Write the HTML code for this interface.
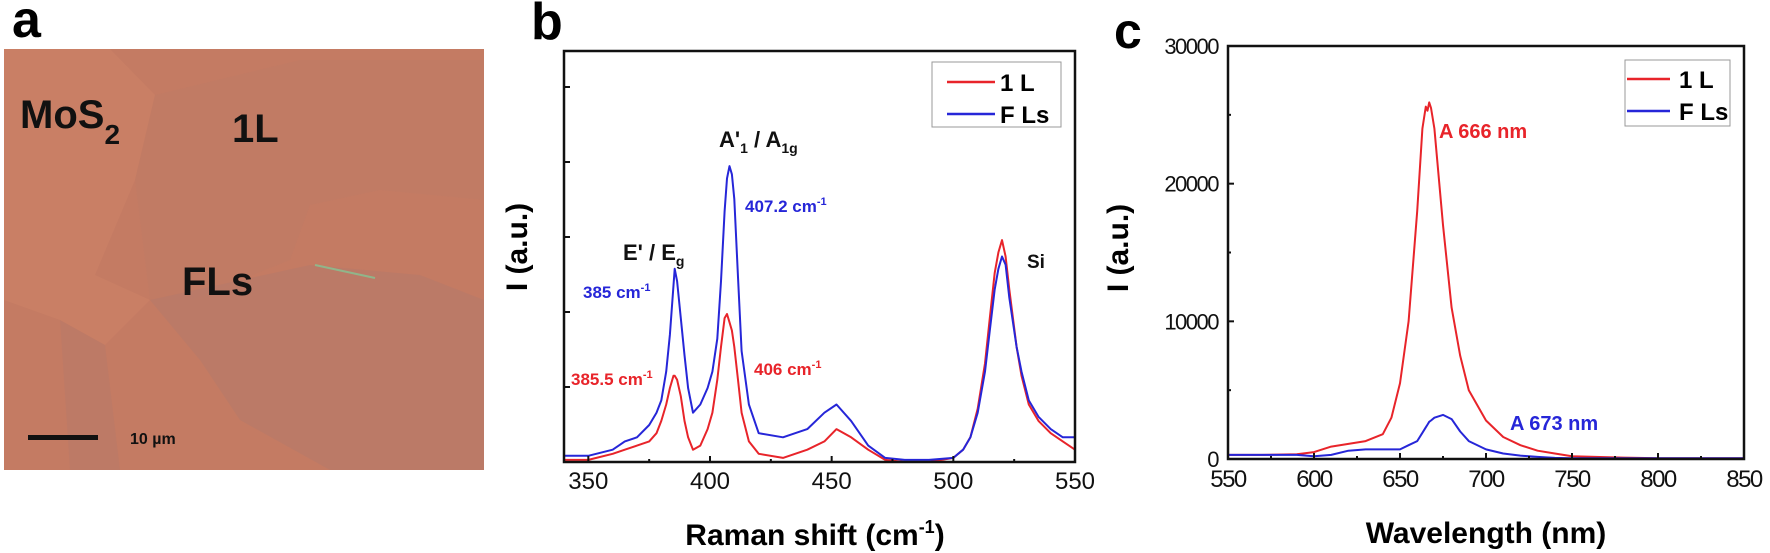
<!DOCTYPE html>
<html><head><meta charset="utf-8">
<style>
html,body{margin:0;padding:0;background:#fff;}
svg{display:block;font-family:"Liberation Sans",Arial,sans-serif;}
</style></head>
<body>
<svg id="fig" width="1770" height="553" viewBox="0 0 1770 553" xmlns="http://www.w3.org/2000/svg">
  <!-- Panel a -->
  <g>
    <text x="12" y="37" font-size="52" font-weight="bold">a</text>
    <rect x="4" y="49" width="480" height="421" fill="#c47b63"/>
    <polygon points="4,49 110,49 155,95 135,180 95,275 150,300 105,345 60,320 4,300" fill="#cc8166" opacity="0.7"/>
    <polygon points="155,95 300,60 484,60 484,200 380,190 310,205 290,260 190,300 150,300 135,180" fill="#bf7b66" opacity="0.6"/>
    <polygon points="150,300 310,265 420,275 484,300 484,470 330,470 240,420 200,360" fill="#b27a6c" opacity="0.45"/>
    <polygon points="60,320 105,345 120,470 70,470" fill="#b47a6c" opacity="0.4"/>
    <line x1="315" y1="265" x2="375" y2="278" stroke="#7fcf9a" stroke-width="2" opacity="0.7"/>
    <text x="20" y="128" font-size="40" font-weight="bold" fill="#111">MoS<tspan font-size="28" dy="16">2</tspan></text>
    <text x="232" y="142" font-size="40" font-weight="bold" fill="#111">1L</text>
    <text x="182" y="295" font-size="40" font-weight="bold" fill="#111">FLs</text>
    <rect x="28" y="435" width="70" height="5" fill="#111"/>
    <text x="130" y="444" font-size="16" font-weight="bold" fill="#111">10 µm</text>
  </g>
  <g id="pb"></g>
  <g id="pc"></g>
</svg>
<script>
// ---------- Panel b data ----------
const ramanX = [340,350,360,365,370,375,378,380,382,383.5,385,385.5,386.5,388,389.5,391,393,396,399,401,403,404.5,406,407,408,409,410,411.5,413,416,420,430,440,447,452,458,465,472,480,490,500,504,507,510,513,515,517,518.5,520,521.5,523,526,528,531,535,540,545,550];
const ramanBlue = [1.5,1.5,3,5,6,9,12,15,22,31,43,47,44,35,26,18,12,14,18,22,30,44,61,69,72,70,64,45,27,14,7,6,8,12,14,10,4,1,0.5,0.5,1,3,6,12,22,32,42,47,50,48,40,28,22,15,11,8,6,6];
const ramanRed = [0.5,0.5,2,3,4,5,7,10,14,18,21,21,20,16,10,6,3,4,8,12,20,28,35,36,34,32,28,20,12,5,2,1,3,5,8,6,3,0.5,0,0,1,3,6,13,24,35,46,51,54,50,42,28,21,14,10,7,5,3];
const ramanTicks = [350,400,450,500,550];
// ---------- Panel c data ----------
const plX = [550,570,590,600,610,620,630,640,645,650,655,660,663,665,666,667,668,670,675,680,685,690,700,710,720,730,740,750,780,800,850];
const plRed = [300,300,350,500,900,1100,1300,1800,3000,5500,10000,18000,24000,25600,25300,25900,25500,24000,17000,11000,7500,5000,2800,1600,1000,600,400,200,100,50,50];
const plBlue = [300,300,300,200,300,600,700,700,700,700,1000,1300,1900,2300,2500,2700,2800,3000,3200,2900,2000,1300,700,400,250,150,80,50,50,50,50];
const plXTicks = [550,600,650,700,750,800,850];
const plYTicks = [0,10000,20000,30000];

const NS="http://www.w3.org/2000/svg";
function mk(parent,tag,attrs,text){const e=document.createElementNS(NS,tag);for(const k in attrs)e.setAttribute(k,attrs[k]);if(text!==undefined)e.textContent=text;parent.appendChild(e);return e;}

// ---- Panel b ----
(function(){
  const g=document.getElementById('pb');
  const L=564,R=1075,T=51,B=462;
  const xs=v=>L+(v-340)*(R-L)/210;
  const ys=v=>B-v*(B-T)/100;
  let t=mk(g,'text',{x:531,y:39,'font-size':52,'font-weight':'bold'},'b');
  
  
  const clip=mk(g,'clipPath',{id:'clipb'});mk(clip,'rect',{x:L,y:T,width:R-L,height:B-T});
  [[ramanRed,'#e8242a','series-1l'],[ramanBlue,'#2626d8','series-fls']].forEach(([d,c,n])=>{
    const pts=ramanX.map((x,i)=>xs(x).toFixed(1)+','+ys(d[i]).toFixed(1)).join(' ');
    const p=mk(g,'polyline',{points:pts,fill:'none',stroke:c,'stroke-width':2,'stroke-linejoin':'round','clip-path':'url(#clipb)'});
    
    
  });
  const fr=mk(g,'rect',{x:L,y:T,width:R-L,height:B-T,fill:'none',stroke:'#111','stroke-width':2.5});
  
  
  ramanTicks.forEach(v=>{
    mk(g,'line',{x1:xs(v),x2:xs(v),y1:B,y2:B-6,stroke:'#111','stroke-width':2});
    const lb=mk(g,'text',{x:xs(v),y:489,'font-size':24,'text-anchor':'middle',fill:'#111'},String(v));
    
    
    if(v<550) mk(g,'line',{x1:xs(v+25),x2:xs(v+25),y1:B,y2:B-3,stroke:'#111','stroke-width':2});
  });
  for(let k=1;k<=5;k++){mk(g,'line',{x1:L,x2:L+6,y1:B-75*k,y2:B-75*k,stroke:'#111','stroke-width':2});}
  const yt=mk(g,'text',{x:0,y:0,'font-size':30,'font-weight':'bold','text-anchor':'middle',transform:'translate(527,247) rotate(-90)'},'I (a.u.)');
  
  
  const xt=mk(g,'text',{x:815,y:545,'font-size':30,'font-weight':'bold','text-anchor':'middle'});
  xt.innerHTML='Raman shift (cm<tspan font-size="18" dy="-12">-1</tspan><tspan dy="12">)</tspan>';
  
  
  const ann=[[623,260,'#111',22,"E' / E<tspan font-size='14' dy='6'>g</tspan>",'e-mode-label'],
    [719,147,'#111',22,"A'<tspan font-size='14' dy='6'>1</tspan><tspan dy='-6'> / A</tspan><tspan font-size='14' dy='6'>1g</tspan>",'a-mode-label'],
    [745,212,'#2626d8',17,"407.2 cm<tspan font-size='11' dy='-7'>-1</tspan>",'fls-a-peak-label'],
    [583,298,'#2626d8',17,"385 cm<tspan font-size='11' dy='-7'>-1</tspan>",'fls-e-peak-label'],
    [571,385,'#e8242a',17,"385.5 cm<tspan font-size='11' dy='-7'>-1</tspan>",'1l-e-peak-label'],
    [754,375,'#e8242a',17,"406 cm<tspan font-size='11' dy='-7'>-1</tspan>",'1l-a-peak-label'],
    [1027,268,'#111',19,"Si",'si-peak-label']];
  ann.forEach(a=>{const e=mk(g,'text',{x:a[0],y:a[1],fill:a[2],'font-size':a[3],'font-weight':'bold'});e.innerHTML=a[4];
    
    });
  const lg=mk(g,'g',{});
  
  
  mk(lg,'rect',{x:932,y:62,width:129,height:65,fill:'#fff',stroke:'#999','stroke-width':1});
  mk(lg,'line',{x1:947,x2:995,y1:82,y2:82,stroke:'#e8242a','stroke-width':2.5});
  mk(lg,'line',{x1:947,x2:995,y1:114,y2:114,stroke:'#2626d8','stroke-width':2.5});
  const l1=mk(lg,'text',{x:1000,y:91,'font-size':24,'font-weight':'bold'},'1 L');
  
  
  const l2=mk(lg,'text',{x:1000,y:123,'font-size':24,'font-weight':'bold'},'F Ls');
  
  
})();

// ---- Panel c ----
(function(){
  const g=document.getElementById('pc');
  const L=1228,R=1744,T=46,B=459;
  const xs=v=>L+(v-550)*(R-L)/300;
  const ys=v=>B-v*(B-T)/30000;
  let t=mk(g,'text',{x:1114,y:48,'font-size':50,'font-weight':'bold'},'c');
  
  
  [[plRed,'#e8242a','pl-series-1l'],[plBlue,'#2626d8','pl-series-fls']].forEach(([d,c,n])=>{
    const pts=plX.map((x,i)=>xs(x).toFixed(1)+','+ys(d[i]).toFixed(1)).join(' ');
    const p=mk(g,'polyline',{points:pts,fill:'none',stroke:c,'stroke-width':2,'stroke-linejoin':'round'});
    
    
  });
  const fr=mk(g,'rect',{x:L,y:T,width:R-L,height:B-T,fill:'none',stroke:'#111','stroke-width':2.5});
  
  
  plXTicks.forEach(v=>{
    mk(g,'line',{x1:xs(v),x2:xs(v),y1:B,y2:B-6,stroke:'#111','stroke-width':2});
    if(v<850) mk(g,'line',{x1:xs(v+25),x2:xs(v+25),y1:B,y2:B-3,stroke:'#111','stroke-width':2});
    const lb=mk(g,'text',{x:xs(v),y:487,'font-size':24,'text-anchor':'middle',fill:'#111','letter-spacing':'-1.5'},String(v));
    
    
  });
  plYTicks.forEach(v=>{
    mk(g,'line',{x1:L,x2:L+6,y1:ys(v),y2:ys(v),stroke:'#111','stroke-width':2});
    if(v<30000) mk(g,'line',{x1:L,x2:L+3,y1:ys(v+5000),y2:ys(v+5000),stroke:'#111','stroke-width':2});
    const lb=mk(g,'text',{x:1218,y:ys(v)+8,'font-size':22,'text-anchor':'end',fill:'#111','letter-spacing':'-1.5'},String(v));
    
    
  });
  const yt=mk(g,'text',{x:0,y:0,'font-size':30,'font-weight':'bold','text-anchor':'middle',transform:'translate(1128,248) rotate(-90)'},'I (a.u.)');
  
  
  const xt=mk(g,'text',{x:1486,y:543,'font-size':30,'font-weight':'bold','text-anchor':'middle'},'Wavelength (nm)');
  
  
  const a1=mk(g,'text',{x:1439,y:138,'font-size':20,'font-weight':'bold',fill:'#e8242a'},'A 666 nm');
  
  
  const a2=mk(g,'text',{x:1510,y:430,'font-size':20,'font-weight':'bold',fill:'#2626d8'},'A 673 nm');
  
  
  const lg=mk(g,'g',{});
  
  
  mk(lg,'rect',{x:1625,y:60,width:105,height:66,fill:'#fff',stroke:'#999','stroke-width':1});
  mk(lg,'line',{x1:1627,x2:1670,y1:79,y2:79,stroke:'#e8242a','stroke-width':2.5});
  mk(lg,'line',{x1:1627,x2:1670,y1:111,y2:111,stroke:'#2626d8','stroke-width':2.5});
  const l1=mk(lg,'text',{x:1679,y:88,'font-size':24,'font-weight':'bold'},'1 L');
  
  
  const l2=mk(lg,'text',{x:1679,y:120,'font-size':24,'font-weight':'bold'},'F Ls');
  
  
})();
</script>
</body></html>
